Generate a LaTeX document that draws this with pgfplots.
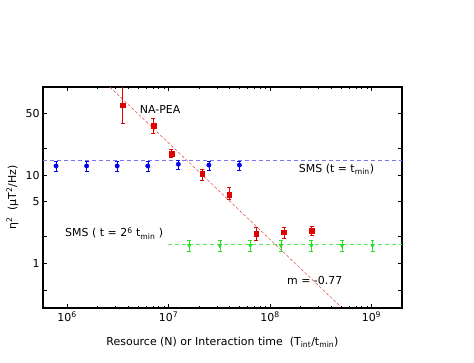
\documentclass[border=0pt]{standalone}
\usepackage{pgfplots}
\pgfplotsset{compat=1.18}
\usepackage{fontspec}
\setmainfont{DejaVu Sans}
\definecolor{cblue}{RGB}{0,0,235}
\definecolor{cblueline}{RGB}{120,120,245}
\definecolor{cred}{RGB}{225,0,0}
\definecolor{credline}{RGB}{230,90,90}
\definecolor{cgreen}{RGB}{40,220,40}
\definecolor{cgreenline}{RGB}{90,235,90}
\begin{document}
\begin{tikzpicture}
\begin{axis}[
  at={(0,0)}, anchor=south west,
  scale only axis, width=359bp, height=221bp,
  xmode=log, ymode=log,
  xmin=5.8e5, xmax=2e9, ymin=0.31, ymax=100,
  axis line style={line width=1.1pt},
  tick align=inside,
  major tick length=4bp, minor tick length=2bp,
  tick style={black, line width=0.4pt},
  xtick={1e6,1e7,1e8,1e9},
  xticklabels={10\textsuperscript{6},10\textsuperscript{7},10\textsuperscript{8},10\textsuperscript{9}},
  ytick={0.5,1,2,5,10,20,50},
  yticklabels={,1,,5,10,,50},
  minor ytick={},
  font=\fontsize{11}{13}\selectfont,
  tick label style={font=\fontsize{11}{13}\selectfont},
  xlabel={Resource (N) or Interaction time\ \ (T\textsubscript{int}/t\textsubscript{min})},
  ylabel={η\textsuperscript{2}\ \ (μT\textsuperscript{2}/Hz)},
  label style={font=\fontsize{11}{13}\selectfont},
  xlabel style={at={(axis description cs:0.5,-0.154)}, anchor=center},
  ylabel style={at={(axis description cs:-0.085,0.5)}, anchor=center},
  clip=true,
]
% fit / reference lines
\addplot[cblueline, line width=0.8pt, dash pattern=on 4pt off 3pt] coordinates {(5.8e5,14.8) (2e9,14.8)};
\addplot[cgreenline, line width=0.8pt, dash pattern=on 4pt off 3pt] coordinates {(1e7,1.65) (2e9,1.65)};
\addplot[credline, line width=0.6pt, dash pattern=on 3pt off 2pt] coordinates {(2.64e6,100) (4.93e8,0.324)};
% SMS t = tmin
\addplot[only marks, mark=*, mark size=2.2pt, cblue,
  error bars/.cd, y dir=both, y explicit, error bar style={cblue, line width=0.5pt}, error mark options={rotate=90, mark size=2pt, cblue}]
 coordinates {
 (7.8e5,12.7) +- (0,1.5)
 (1.56e6,12.7) +- (0,1.5)
 (3.12e6,12.7) +- (0,1.5)
 (6.25e6,12.7) +- (0,1.5)
 (1.25e7,13.3) +- (0,1.5)
 (2.5e7,13.0) +- (0,1.5)
 (5e7,13.0) +- (0,1.5)
 };
% NA-PEA
\addplot[only marks, mark=square*, mark size=2.4pt, cred,
  error bars/.cd, y dir=both, y explicit, error bar style={cred, line width=0.5pt}, error mark options={rotate=90, mark size=2pt, cred}]
 coordinates {
 (3.54e6,62) += (0,40) -= (0,23)
 (7.1e6,36) += (0,8.5) -= (0,6)
 (1.07e7,17.5) += (0,2.1) -= (0,1.6)
 (2.15e7,10.3) += (0,1.5) -= (0,1.5)
 (3.96e7,6.0) += (0,1.25) -= (0,0.7)
 (7.3e7,2.18) += (0,0.37) -= (0,0.36)
 (1.37e8,2.25) += (0,0.34) -= (0,0.35)
 (2.57e8,2.33) += (0,0.3) -= (0,0.26)
 };
% SMS t = 2^6 tmin
\addplot[only marks, mark=triangle*, mark size=2.2pt, mark options={rotate=180}, cgreen,
  error bars/.cd, y dir=both, y explicit, error bar style={cgreen, line width=0.5pt}, error mark options={rotate=90, mark size=2pt, cgreen}]
 coordinates {
 (1.6e7,1.59) +- (0,0.22)
 (3.2e7,1.59) +- (0,0.22)
 (6.4e7,1.59) +- (0,0.22)
 (1.28e8,1.59) +- (0,0.22)
 (2.56e8,1.59) +- (0,0.22)
 (5.12e8,1.59) +- (0,0.22)
 (1.024e9,1.59) +- (0,0.22)
 };
\node[anchor=west, inner sep=0pt] at (axis cs:5.2e6,56) {NA-PEA};
\node[anchor=west, inner sep=0pt] at (axis cs:1.92e8,11.6) {SMS (t = t\textsubscript{min})};
\node[anchor=west, inner sep=0pt] at (axis cs:9.56e5,2.19) {SMS ( t = 2\textsuperscript{6} t\textsubscript{min} )};
\node[anchor=west, inner sep=0pt] at (axis cs:1.47e8,0.64) {m = -0.77};
\end{axis}
\path[use as bounding box] (-43bp,-55bp) rectangle (431bp,308bp);
\end{tikzpicture}
\end{document}
